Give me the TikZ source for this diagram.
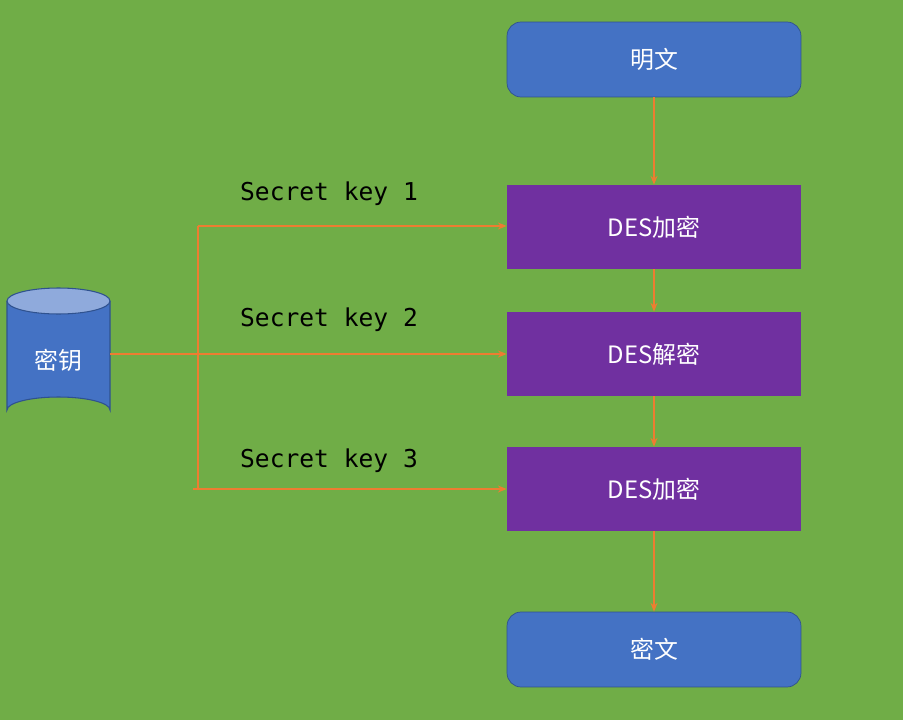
\documentclass[tikz,border=0pt]{standalone}
\usepackage{fontspec}
\newfontfamily\cjk{Noto Sans CJK SC}
\newfontfamily\mono{DejaVu Sans Mono}
\usetikzlibrary{arrows.meta}
\definecolor{bg}{HTML}{70AD47}
\definecolor{bl}{HTML}{4472C4}
\definecolor{bld}{HTML}{2F528F}
\definecolor{pu}{HTML}{7030A0}
\definecolor{og}{HTML}{ED7D31}
\definecolor{lb}{HTML}{8FAADC}
\tikzset{
 rbox/.style={draw=bld,fill=bl,rounded corners=8pt,minimum width=5.88cm,minimum height=1.5cm,text=white,font=\cjk\fontsize{13.6}{16}\selectfont,inner sep=0pt},
 pbox/.style={fill=pu,minimum width=5.88cm,minimum height=1.68cm,text=white,font=\cjk\fontsize{13.6}{16}\selectfont,inner sep=0pt},
 conn/.style={draw=og,line width=0.8pt,-{Stealth[length=5pt,width=4pt]}},
 ln/.style={draw=og,line width=0.8pt},
 lbl/.style={font=\mono\fontsize{14}{16}\selectfont,text=black}
}
\begin{document}
\begin{tikzpicture}[x=0.02cm,y=-0.02cm]
\fill[bg] (0,0) rectangle (903,720);
\useasboundingbox (0,0) rectangle (903,720);
\node[rbox] (pt) at (654,59.5) {明文};
\node[pbox] (e1) at (654,227) {DES加密};
\node[pbox] (d) at (654,354) {DES解密};
\node[pbox] (e2) at (654,489) {DES加密};
\node[rbox] (ct) at (654,649.5) {密文};
% cylinder
\filldraw[fill=bl,draw=bld,line width=0.6pt] (7,301) -- (7,410) arc[start angle=180,end angle=360,x radius=51.5,y radius=13] -- (110,301);
\filldraw[fill=lb,draw=bld,line width=0.6pt] (58.5,301) ellipse[x radius=51.5,y radius=13];
\node[text=white,font=\cjk\fontsize{13.6}{16}\selectfont] (key) at (58.5,360) {密钥};
\coordinate (kr) at (110,354);
\coordinate (v1) at (198,226);
\coordinate (v2) at (198,489);
\coordinate (v3) at (193,489);
\draw[conn] (pt) -- (e1);
\draw[conn] (e1) -- (d);
\draw[conn] (d) -- (e2);
\draw[conn] (e2) -- (ct);
\draw[conn] (kr) -- (d.west);
\draw[ln] (v1) -- (v2);
\draw[conn] (v1) -- (e1.west|-v1);
\draw[conn] (v3) -- (e2.west|-v3);
\node[lbl] (s1) at (329,194) {Secret key 1};
\node[lbl] (s2) at (329,320) {Secret key 2};
\node[lbl] (s3) at (329,461) {Secret key 3};
\end{tikzpicture}
\end{document}
